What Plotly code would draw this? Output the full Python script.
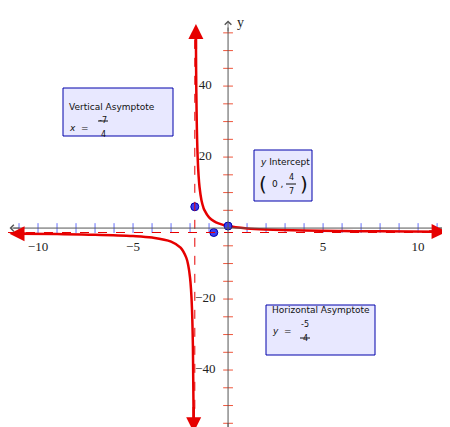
import plotly.graph_objects as go

# curve points
right_x = [-1.694, -1.68, -1.65, -1.6, -1.55, -1.5, -1.4, -1.3, -1.25, -1.0, -0.75, -0.5, 0.0, 1.0, 2.0, 4.0, 6.0, 8.0, 11.2]
right_y = [56.0, 44.3, 30.6, 20.0, 14.7, 11.5, 7.86, 5.83, 5.13, 3.0, 1.94, 1.3, 0.571, -0.09, -0.4, -0.696, -0.839, -0.923, -1.004]
left_x = [-11.2, -9.0, -7.0, -5.0, -4.0, -3.0, -2.5, -2.2, -2.1, -2.0, -1.95, -1.9, -1.85, -1.808]
left_y = [-1.587, -1.69, -1.857, -2.23, -2.667, -3.8, -5.5, -8.33, -10.36, -14.0, -17.2, -22.5, -33.1, -56.0]

v_asym = -1.75
h_asym = -1.25
pts_x = [-1.75, -0.75, 0.0]
pts_y = [6.0, -1.25, 0.571]

x_ticks = [i for i in range(-11, 12) if i != 0]
y_ticks = [i for i in range(-55, 60, 5) if i != 0]
x_labels = [-10, -5, 5, 10]
y_labels = [-40, -20, 20, 40]

RED = 'rgb(230,0,0)'
BLUE = 'rgb(0,0,170)'
XR = [-11.58, 12.1]
YR = [-58.3, 62.0]

fig = go.Figure()

# asymptotes
fig.add_shape(type='line', x0=XR[0], x1=XR[1], y0=h_asym, y1=h_asym, line=dict(color=RED, width=1, dash='dash'))
fig.add_shape(type='line', x0=v_asym, x1=v_asym, y0=-56, y1=56, line=dict(color=RED, width=1, dash='dash'))

# axes
fig.add_shape(type='line', x0=-11.3, x1=11.3, y0=0, y1=0, line=dict(color='#555', width=1))
fig.add_shape(type='line', x0=0, x1=0, y0=-56.5, y1=56.5, line=dict(color='#555', width=1))
fig.add_trace(go.Scatter(x=x_ticks, y=[0] * len(x_ticks), mode='markers',
                         marker=dict(symbol='line-ns-open', size=7, line=dict(color='#555', width=1)), hoverinfo='skip'))
fig.add_trace(go.Scatter(x=[0] * len(y_ticks), y=y_ticks, mode='markers',
                         marker=dict(symbol='line-ew-open', size=7, line=dict(color='#555', width=1)), hoverinfo='skip'))
fig.add_trace(go.Scatter(x=x_labels, y=[-5.5] * len(x_labels), mode='text', text=[str(v).replace('-', '−') for v in x_labels],
                         textfont=dict(family='Liberation Serif', size=13, color='#222'), hoverinfo='skip'))
fig.add_trace(go.Scatter(x=[-1.2] * len(y_labels), y=y_labels, mode='text', text=[str(v).replace('-', '−') for v in y_labels],
                         textfont=dict(family='Liberation Serif', size=13, color='#222'), hoverinfo='skip'))
for (x, y, ax, ay) in [(11.6, 0, 11.0, 0), (-11.5, 0, -10.9, 0), (0, 58.5, 0, 55.0), (0, -58, 0, -54.5)]:
    fig.add_annotation(x=x, y=y, ax=ax, ay=ay, axref='x', ayref='y', showarrow=True, text='',
                       arrowhead=4, arrowsize=1.6, arrowwidth=0.8, arrowcolor='#555')
fig.add_annotation(x=11.75, y=0, text='x', showarrow=False, xanchor='left', font=dict(family='Liberation Serif', size=14, color='#222'))
fig.add_annotation(x=0.35, y=58, text='y', showarrow=False, xanchor='left', font=dict(family='Liberation Serif', size=14, color='#222'))

# curve
for xs, ys in [(right_x, right_y), (left_x, left_y)]:
    fig.add_trace(go.Scatter(x=xs, y=ys, mode='lines', line=dict(color=RED, width=2.5, shape='spline'), hoverinfo='skip'))
for (x, y, ax, ay) in [(-1.69, 57.5, -1.696, 50), (-1.81, -57.5, -1.805, -50), (11.5, -1.01, 10.5, -0.98), (-11.5, -1.58, -10.5, -1.6)]:
    fig.add_annotation(x=x, y=y, ax=ax, ay=ay, axref='x', ayref='y', showarrow=True, text='',
                       arrowhead=2, arrowsize=1.2, arrowwidth=2.5, arrowcolor=RED)

# callouts (pixel positions -> paper fractions, margins are zero)
def px(u):
    return u / 450


def py(v):
    return 1 - v / 427


boxes = [(55, 80, 165, 128), (246, 142, 304, 193), (258, 297, 367, 347)]
anchors = [(125, 128, -1.75, 6.0), (260, 193, 0.0, 0.571), (258, 300, -0.75, -1.25)]
for (x0, y0, x1, y1) in boxes:
    fig.add_shape(type='rect', xref='paper', yref='paper', x0=px(x0), x1=px(x1), y0=py(y0), y1=py(y1),
                  fillcolor='rgb(232,232,255)', line=dict(color=BLUE, width=1))
for (bx, by, dx, dy) in anchors:
    fig.add_annotation(x=dx, y=dy, ax=px(bx), ay=py(by), axref='x domain', ayref='y domain', showarrow=True, text='',
                       arrowhead=0, arrowwidth=1, arrowcolor=BLUE, standoff=4)
fig.add_trace(go.Scatter(x=pts_x, y=pts_y, mode='markers',
                         marker=dict(color='rgb(60,60,240)', size=8, line=dict(color=BLUE, width=1)), hoverinfo='skip'))

TF = dict(family='DejaVu Sans', size=9, color='#111')


def txt(u, v, s, anchor='left', size=9):
    fig.add_annotation(xref='paper', yref='paper', x=px(u), y=py(v), text=s, showarrow=False,
                       xanchor=anchor, font=dict(TF, size=size))


def frac(u, v, num, den):
    txt(u, v - 7, num, 'center', 8)
    txt(u, v + 7, den, 'center', 8)
    fig.add_shape(type='line', xref='paper', yref='paper', x0=px(u - 5), x1=px(u + 5), y0=py(v), y1=py(v),
                  line=dict(color='#111', width=1))


txt(59, 92, 'Vertical Asymptote')
txt(59, 113, '<i>x</i>  =')
frac(95, 113, '-7', '4')
txt(250, 154, '<i>y</i> Intercept')
txt(249, 176, '(', size=20)
txt(262, 176, '0 ,')
frac(283, 176, '4', '7')
txt(290, 176, ')', size=20)
txt(262, 309, 'Horizontal Asymptote')
txt(262, 330, '<i>y</i>  =')
frac(297, 330, '-5', '4')

fig.update_xaxes(range=XR, visible=False)
fig.update_yaxes(range=YR, visible=False)
fig.update_layout(width=450, height=427, margin=dict(l=0, r=0, t=0, b=0), showlegend=False,
                  plot_bgcolor='white', paper_bgcolor='white')
fig.write_html('out.html')
